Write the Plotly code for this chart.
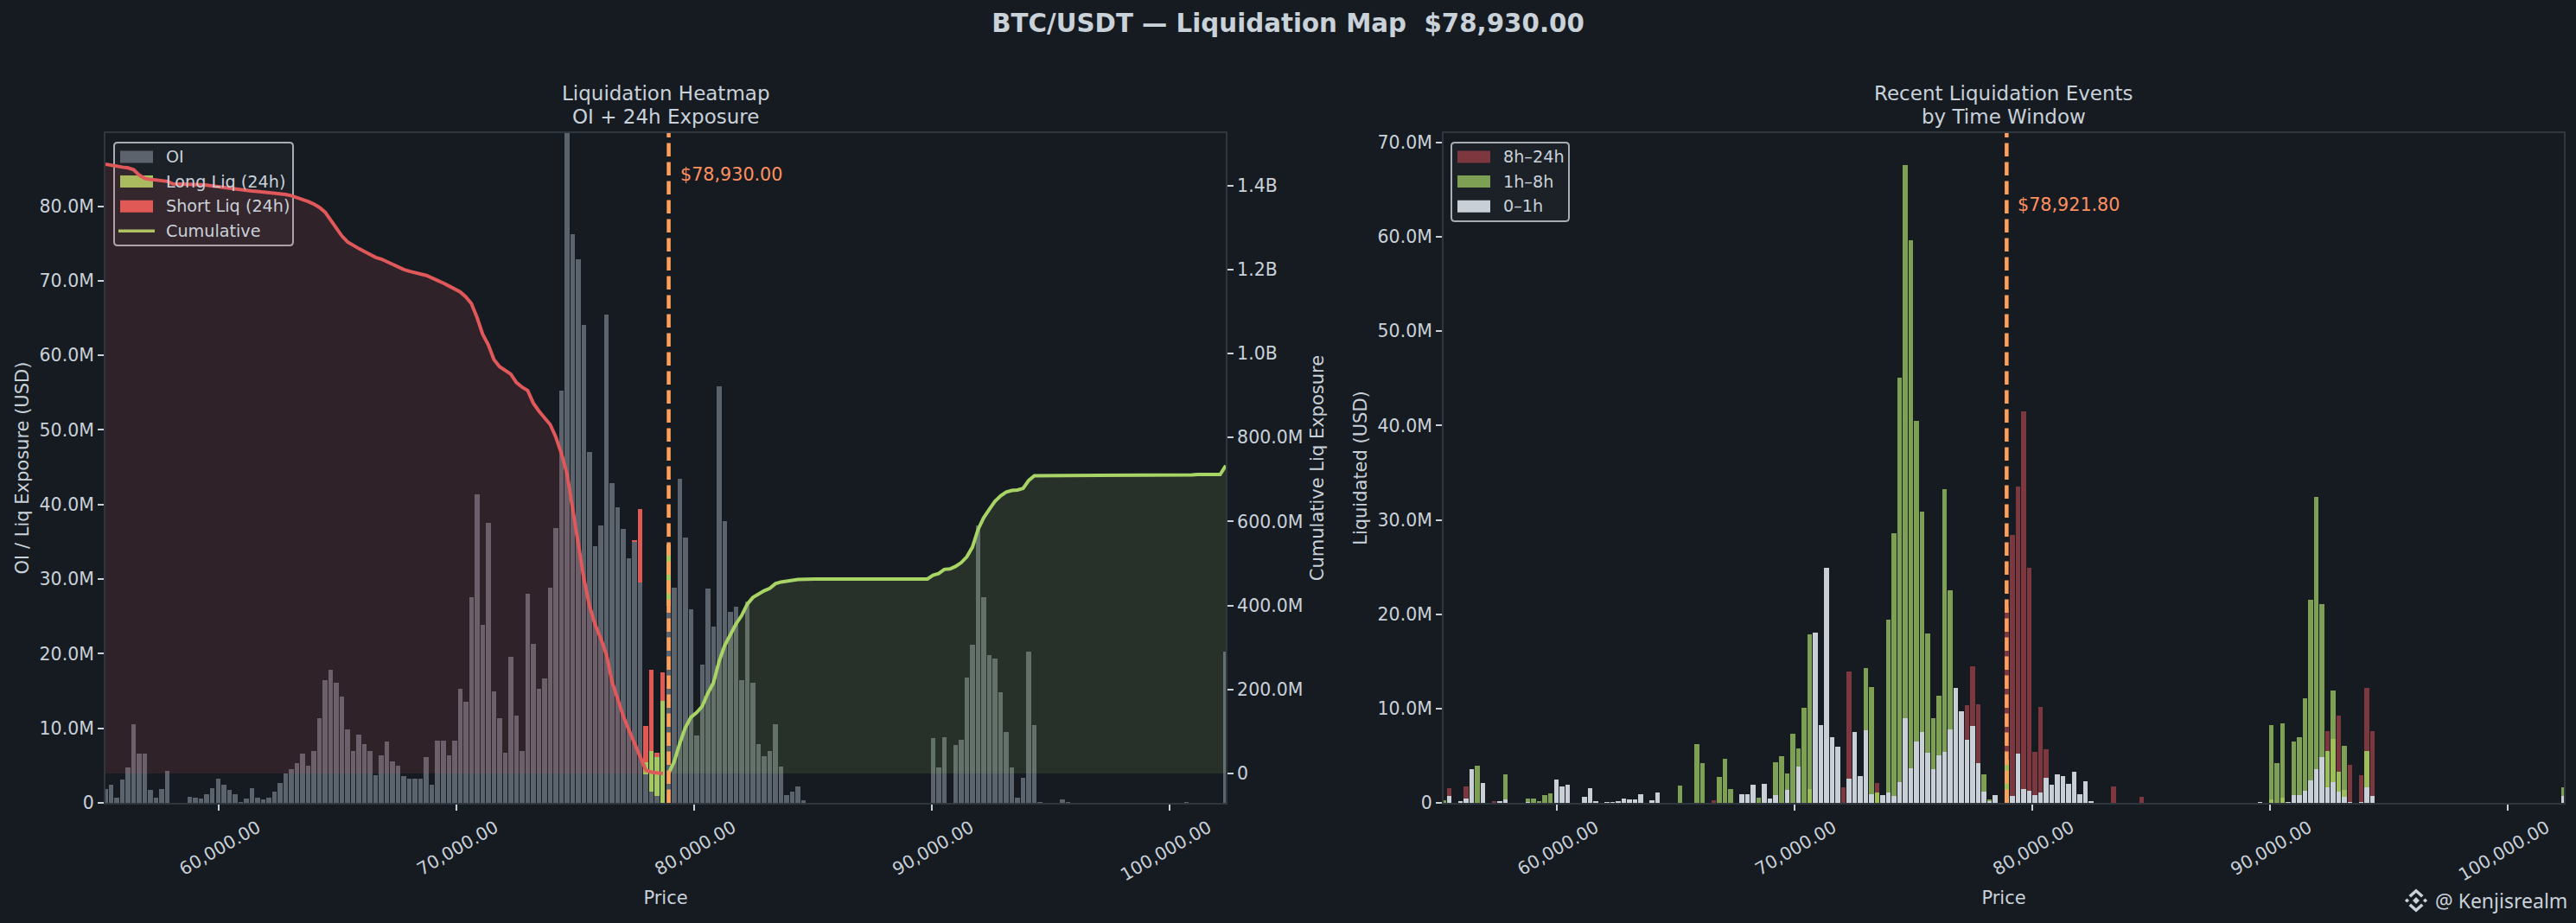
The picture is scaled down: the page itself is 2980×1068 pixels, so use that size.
import numpy as np
import plotly.graph_objects as go

PRICE_MIN, PRICE_MAX, N_BINS = 55236, 102364, 200
LAST_PRICE = 78930.00
EVENT_PRICE = 78921.80

x_ticks = [60000, 70000, 80000, 90000, 100000]
x_labels = ["60,000.00", "70,000.00", "80,000.00", "90,000.00", "100,000.00"]
y1_ticks = [0, 10, 20, 30, 40, 50, 60, 70, 80]
y1_labels = ["0", "10.0M", "20.0M", "30.0M", "40.0M", "50.0M", "60.0M", "70.0M", "80.0M"]
y2_ticks = [0, 200, 400, 600, 800, 1000, 1200, 1400]
y2_labels = ["0", "200.0M", "400.0M", "600.0M", "800.0M", "1.0B", "1.2B", "1.4B"]
y3_ticks = [0, 10, 20, 30, 40, 50, 60, 70]
y3_labels = ["0", "10.0M", "20.0M", "30.0M", "40.0M", "50.0M", "60.0M", "70.0M"]

# left panel, millions USD per price bin
oi = [
    1.8, 2.45, 0.7, 3.1, 4.7, 10.6, 6.6, 6.6, 1.7, 0.7,
    1.8, 4.3, 0, 0, 0, 0.8, 0.7, 0.6, 1.2, 2.0,
    3.25, 2.45, 1.7, 1.2, 0.15, 0.6, 2.0, 0.7, 0.5, 0.7,
    1.5, 2.7, 3.9, 4.5, 5.3, 6.6, 5.0, 6.9, 11.3, 16.4,
    17.9, 16.1, 14.2, 9.9, 6.9, 9.1, 7.9, 7.0, 3.7, 6.4,
    8.2, 5.6, 5.0, 3.6, 3.25, 3.25, 3.25, 6.1, 2.45, 8.4,
    8.4, 6.4, 8.3, 15.3, 13.5, 27.6, 41.4, 23.9, 37.6, 15.0,
    11.3, 6.7, 19.6, 11.7, 7.0, 28.0, 21.3, 15.3, 16.7, 28.8,
    36.8, 55.3, 90.0, 76.2, 72.9, 64.1, 47.0, 34.4, 37.2, 65.5,
    42.9, 39.6, 36.7, 32.8, 35.0, 29.5, 3.8, 1.5, 0.9, 0,
    26.4, 28.9, 43.5, 35.6, 26.0, 9.0, 18.5, 28.7, 23.6, 55.8,
    37.8, 25.6, 26.3, 16.5, 27.0, 16.1, 7.9, 6.2, 6.9, 10.5,
    4.9, 1.0, 1.5, 2.2, 0.35, 0, 0, 0, 0, 0,
    0, 0, 0, 0, 0, 0, 0, 0, 0, 0,
    0, 0, 0, 0, 0, 0, 0, 8.7, 4.7, 8.8,
    0, 7.8, 8.5, 16.8, 21.2, 37.2, 27.6, 19.8, 19.4, 14.8,
    9.5, 4.8, 0.7, 3.4, 20.3, 10.4, 0.1, 0, 0, 0,
    0.5, 0.12, 0, 0, 0, 0, 0, 0, 0, 0,
    0, 0, 0, 0, 0, 0, 0, 0, 0, 0,
    0, 0, 0.1, 0, 0, 0, 0, 0, 0, 20.3,
]
long_liq = [0] * 96 + [1.7, 5.4, 5.2, 13.7, 8.2] + [0] * 99
short_liq = [0] * 94 + [0.2, 9.85, 4.8, 10.9, 0.65, 3.8] + [0] * 100
cum_short = [
    1451, 1448, 1446, 1444, 1442, 1438, 1425, 1417, 1415, 1413,
    1412, 1410, 1404, 1404, 1404, 1404, 1403, 1402, 1401, 1399,
    1398, 1396, 1394, 1392, 1389, 1388, 1387, 1386, 1385, 1384,
    1383, 1381, 1379, 1376, 1372, 1367, 1362, 1356, 1348, 1337,
    1318, 1298, 1280, 1266, 1257, 1250, 1243, 1235, 1229, 1225,
    1219, 1211, 1205, 1200, 1196, 1193, 1190, 1186, 1180, 1175,
    1168, 1161, 1155, 1147, 1135, 1119, 1086, 1046, 1021, 986,
    969, 959, 951, 931, 920, 912, 882, 863, 846, 831,
    801, 762, 713, 626, 545, 463, 398, 354, 321, 283,
    218, 174, 136, 103, 71, 38, 8, 3, 1, 0,
]
cum_long = [
    0, 27, 71, 109, 134, 145, 160, 191, 216, 267,
    305, 332, 356, 376, 403, 419, 428, 435, 441, 452,
    456, 459, 460, 462, 463, 463, 463, 463, 463, 463,
    463, 463, 463, 463, 463, 463, 463, 463, 463, 463,
    463, 463, 463, 463, 463, 463, 463, 472, 476, 486,
    487, 493, 502, 516, 539, 581, 609, 629, 648, 661,
    670, 674, 675, 679, 698, 709, 709, 709, 709, 709,
    710, 710, 710, 710, 710, 710, 710, 710, 710, 710,
    710, 710, 710, 710, 711, 711, 711, 711, 711, 711,
    711, 711, 711, 711, 712, 712, 712, 712, 712, 733,
]

# right panel, millions USD per price bin
win_0_1h = [
    0, 0.7, 0, 0.2, 0.5, 3.6, 0, 2.1, 0, 0,
    0.2, 0.4, 0, 0, 0, 0.1, 0, 0, 0, 0,
    2.5, 1.75, 1.95, 0, 0, 0.6, 1.6, 0.1, 0, 0.05,
    0.05, 0.2, 0.5, 0.4, 0.4, 0.9, 0, 0.3, 1.1, 0,
    0, 0, 0, 0, 0, 0, 0, 0, 0, 0,
    0, 0, 0, 0.95, 0.95, 1.95, 0, 2.05, 0.49, 0.85,
    0, 1.4, 0, 3.88, 0, 0, 18.09, 8.28, 24.96, 7.0,
    6.0, 0, 2.6, 7.55, 2.87, 7.73, 0.95, 0, 0.85, 1.13,
    0.76, 2.23, 9.0, 3.7, 6.54, 7.55, 5.35, 3.6, 5.07, 5.44,
    7.82, 12.2, 9.75, 6.72, 8.19, 4.25, 1.22, 0.2, 0.85, 0,
    0.58, 0.76, 5.25, 1.5, 1.31, 0.85, 1.13, 2.7, 1.95, 3.05,
    2.87, 2.05, 3.33, 0.95, 2.32, 0.12, 0, 0, 0, 0,
    0, 0, 0, 0, 0, 0, 0, 0, 0, 0,
    0, 0, 0, 0, 0, 0, 0, 0, 0, 0,
    0, 0, 0, 0, 0, 0.05, 0, 0, 0, 0,
    0.05, 0.82, 0.82, 1.26, 2.36, 3.56, 4.82, 1.64, 2.19, 1.15,
    0.6, 0.05, 0, 0.05, 1.64, 0.71, 0, 0, 0, 0,
    0, 0, 0, 0, 0, 0, 0, 0, 0, 0,
    0, 0, 0, 0, 0, 0, 0, 0, 0, 0,
    0, 0, 0, 0, 0, 0, 0, 0, 0, 0.71,
]
win_overlap = [
    0, 0, 0, 0, 0, 0, 0, 0, 0, 0,
    0, 0, 0, 0, 0, 0, 0, 0, 0, 0,
    0, 0, 0, 0, 0, 0, 0, 0, 0, 0,
    0, 0, 0, 0, 0, 0, 0, 0, 0, 0,
    0, 0, 0, 0, 0, 0, 0, 0, 0, 0,
    0, 0, 0, 0, 0, 0, 0, 0, 0, 0,
    0, 0, 0, 0, 0, 1.5, 0, 0, 0, 0,
    0, 0, 0, 0, 0, 0, 0, 1.13, 0, 0,
    0, 0, 0, 0, 0, 0, 0, 0, 0, 0,
    0, 0, 0, 0, 0, 0, 0, 0, 0, 0,
    4.0, 0, 0, 0, 0, 0, 0, 0, 0, 0,
    0, 0, 0, 0, 0, 0, 0, 0, 0, 0,
    0, 0, 0, 0, 0, 0, 0, 0, 0, 0,
    0, 0, 0, 0, 0, 0, 0, 0, 0, 0,
    0, 0, 0, 0, 0, 0, 0, 0.38, 0, 0.55,
    0, 0, 0, 0, 0, 0, 0, 3.84, 4.55, 2.14,
    0.77, 0, 0, 0, 3.84, 0, 0, 0, 0, 0,
    0, 0, 0, 0, 0, 0, 0, 0, 0, 0,
    0, 0, 0, 0, 0, 0, 0, 0, 0, 0,
    0, 0, 0, 0, 0, 0, 0, 0, 0, 0,
]
win_1_8h = [
    0.24, 0, 0, 0, 0, 0, 3.9, 0, 0, 0,
    0, 2.65, 0, 0, 0, 0.4, 0.5, 0.2, 0.8, 1.0,
    0, 0, 0, 0, 0, 0, 0, 0, 0, 0,
    0, 0, 0, 0, 0, 0, 0, 0, 0, 0,
    0, 0, 1.85, 0, 0, 6.25, 4.2, 0, 0, 2.75,
    4.7, 1.47, 0, 0, 0, 0, 0.58, 0, 0, 3.49,
    4.98, 1.74, 7.36, 1.92, 10.1, 16.4, 0, 0, 0, 0,
    0, 0, 0, 0, 0, 6.6, 11.36, 0, 0, 18.33,
    27.8, 42.8, 58.6, 55.9, 33.96, 23.3, 12.65, 5.4, 6.33, 27.86,
    14.76, 0, 0, 0, 0, 0, 1.84, 0.2, 0, 0,
    0, 0, 0, 0, 0, 0, 0, 0, 0, 0,
    0, 0, 0, 0, 0, 0, 0, 0, 0, 0,
    0, 0, 0, 0, 0, 0, 0, 0, 0, 0,
    0, 0, 0, 0, 0, 0, 0, 0, 0, 0,
    0, 0, 0, 0, 0, 0, 0, 7.84, 4.2, 7.84,
    0, 5.65, 6.14, 9.81, 19.19, 28.84, 16.23, 0, 5.15, 0,
    4.66, 0, 0, 0, 0, 0, 0, 0, 0, 0,
    0, 0, 0, 0, 0, 0, 0, 0, 0, 0,
    0, 0, 0, 0, 0, 0, 0, 0, 0, 0,
    0, 0, 0, 0, 0, 0, 0, 0, 0, 0.93,
]
win_8_24h = [
    0, 0.9, 0, 0, 1.2, 0, 0, 0, 0, 0.1,
    0, 0, 0, 0, 0, 0, 0, 0, 0, 0,
    0, 0, 0, 0, 0, 0, 0, 0, 0, 0,
    0, 0, 0, 0, 0, 0, 0, 0, 0, 0,
    0, 0, 0, 0, 0, 0, 0, 0, 0.3, 0,
    0, 0, 0, 0, 0, 0, 0, 0, 0, 0,
    0, 0, 0, 0, 0, 0, 0, 0, 0, 0,
    0, 1.68, 11.36, 0, 0, 0, 0, 1.0, 0, 0,
    0, 0, 0, 0, 0, 0, 0, 0, 0, 0,
    0, 0, 0, 3.67, 6.33, 6.23, 0, 0, 0, 0,
    16.26, 27.6, 28.3, 40.0, 23.65, 4.59, 9.0, 3.0, 0, 0,
    0, 0, 0, 0, 0, 0, 0, 0, 0, 1.7,
    0, 0, 0, 0, 0.68, 0, 0, 0, 0, 0,
    0, 0, 0, 0, 0, 0, 0, 0, 0, 0,
    0, 0, 0, 0, 0, 0, 0, 0, 0, 0,
    0, 0, 0, 0, 0, 0, 0, 2.08, 0, 5.98,
    0, 3.95, 0, 2.85, 6.69, 6.85, 0, 0, 0, 0,
    0, 0, 0, 0, 0, 0, 0, 0, 0, 0,
    0, 0, 0, 0, 0, 0, 0, 0, 0, 0,
    0, 0, 0, 0, 0, 0, 0, 0, 0, 0,
]

W, H = 2980, 1068
BG = "#161b22"
SPINE = "#30363d"
TEXT = "#c9d1d9"
ORANGE = "#ffa05a"
ORANGE_TEXT = "#ff9060"
FONT = "DejaVu Sans"
OI_COL, LONG_COL, SHORT_COL, CUM_COL = "rgba(139,148,158,0.6)", "#a3c95f", "#e05a55", "#a8d466"
W0_COL, W1_COL, W2_COL = "#c8cfd7", "#7da055", "#7d373e"
prices = np.linspace(PRICE_MIN, PRICE_MAX, N_BINS)
BAR_W = 200
M = 1e6


def mil(values):
    return np.asarray(values, dtype=float) * M


fig = go.Figure()
for name, vals, color in [
    ("OI", oi, OI_COL),
    ("Long Liq (24h)", long_liq, LONG_COL),
    ("Short Liq (24h)", short_liq, SHORT_COL),
]:
    fig.add_trace(go.Bar(x=prices, y=mil(vals), name=name, width=BAR_W, marker=dict(color=color, line_width=0),
                         xaxis="x", yaxis="y"))
fig.add_trace(go.Scatter(x=prices[:100], y=mil(cum_short), mode="lines", name="Cumulative short",
                         line=dict(color="#e0585a", width=4), fill="tozeroy", fillcolor="rgba(224,88,90,0.13)",
                         xaxis="x", yaxis="y2"))
fig.add_trace(go.Scatter(x=prices[100:], y=mil(cum_long), mode="lines", name="Cumulative",
                         line=dict(color=CUM_COL, width=4), fill="tozeroy", fillcolor="rgba(168,212,102,0.12)",
                         xaxis="x", yaxis="y2"))
for name, vals, color in [
    ("0–1h", win_0_1h, W0_COL),
    ("1h–8h overlap", win_overlap, "#9ebe5a"),
    ("1h–8h", win_1_8h, W1_COL),
    ("8h–24h", win_8_24h, W2_COL),
]:
    fig.add_trace(go.Bar(x=prices, y=mil(vals), name=name, width=BAR_W,
                         marker=dict(color=color, line_width=0), xaxis="x2", yaxis="y3"))


def px_x(p):
    return p / W


def px_y(p):
    return 1 - p / H


axis_font = dict(family=FONT, size=20.5, color=TEXT)
label_font = dict(family=FONT, size=21, color=TEXT)
head_font = dict(family=FONT, size=23, color=TEXT)
legend_font = dict(family=FONT, size=19.2, color=TEXT)
common = dict(showgrid=False, zeroline=False, showline=True, linecolor=SPINE, linewidth=2, automargin=False,
              ticks="outside", ticklen=7, tickwidth=2, tickcolor=TEXT, tickfont=axis_font)
xcommon = dict(common, range=[PRICE_MIN, PRICE_MAX], tickmode="array", tickvals=x_ticks, ticktext=x_labels,
               tickangle=-30, ticklabelshift=45, mirror=True,
               title=dict(text="Price", font=label_font, standoff=8))

annotations = []
for text, cx, cy in [("Liquidation Heatmap", 770, 108), ("OI + 24h Exposure", 770, 135),
                     ("Recent Liquidation Events", 2318, 108), ("by Time Window", 2318, 135)]:
    annotations.append(dict(text=text, xref="paper", yref="paper", x=px_x(cx), y=px_y(cy), showarrow=False,
                            xanchor="center", yanchor="middle", font=head_font))
annotations += [
    dict(text="$78,930.00", xref="x", yref="paper", x=LAST_PRICE, xshift=11, y=px_y(202), showarrow=False,
         xanchor="left", yanchor="middle", font=dict(family=FONT, size=20.7, color=ORANGE_TEXT)),
    dict(text="$78,921.80", xref="x2", yref="paper", x=EVENT_PRICE, xshift=11, y=px_y(237), showarrow=False,
         xanchor="left", yanchor="middle", font=dict(family=FONT, size=20.7, color=ORANGE_TEXT)),
    dict(text="@ Kenjisrealm", xref="paper", yref="paper", x=px_x(2972), y=px_y(1042), showarrow=False,
         xanchor="right", yanchor="middle", font=dict(family="Noto Sans", size=23, color=TEXT)),
]
shapes = [
    dict(type="line", xref="x", yref="y domain", x0=LAST_PRICE, x1=LAST_PRICE, y0=0, y1=1, layer="above",
         line=dict(color=ORANGE, width=4.5, dash="15.5px,6.5px")),
    dict(type="line", xref="x2", yref="y3 domain", x0=EVENT_PRICE, x1=EVENT_PRICE, y0=0, y1=1, layer="above",
         line=dict(color=ORANGE, width=4.5, dash="15.5px,6.5px")),
]


def round_rect(x0, y0, x1, y1, r=4):
    return (f"M{px_x(x0 + r)},{px_y(y0)} L{px_x(x1 - r)},{px_y(y0)} Q{px_x(x1)},{px_y(y0)} {px_x(x1)},{px_y(y0 + r)} "
            f"L{px_x(x1)},{px_y(y1 - r)} Q{px_x(x1)},{px_y(y1)} {px_x(x1 - r)},{px_y(y1)} "
            f"L{px_x(x0 + r)},{px_y(y1)} Q{px_x(x0)},{px_y(y1)} {px_x(x0)},{px_y(y1 - r)} "
            f"L{px_x(x0)},{px_y(y0 + r)} Q{px_x(x0)},{px_y(y0)} {px_x(x0 + r)},{px_y(y0)} Z")


def add_legend(x0, y0, x1, y1, entries):
    shapes.append(dict(type="path", path=round_rect(x0, y0, x1, y1), xref="paper", yref="paper", layer="below",
                       fillcolor="#1c2128", line=dict(color="#a8adb3", width=2)))
    for k, (name, color, is_line) in enumerate(entries):
        cy = y0 + 16.5 + 28.6 * k
        hx0, hx1 = x0 + 7, x0 + 45
        if is_line:
            shapes.append(dict(type="line", x0=px_x(hx0 - 2), x1=px_x(hx1 + 2), y0=px_y(cy), y1=px_y(cy), xref="paper",
                               yref="paper", layer="below", line=dict(color=color, width=3.5)))
        else:
            shapes.append(dict(type="rect", x0=px_x(hx0), x1=px_x(hx1), y0=px_y(cy - 7), y1=px_y(cy + 7), xref="paper",
                               yref="paper", layer="below", fillcolor=color, line_width=0))
        annotations.append(dict(text=name, xref="paper", yref="paper", x=px_x(x0 + 58), y=px_y(cy), showarrow=False,
                                xanchor="left", yanchor="middle", font=legend_font))


add_legend(132, 165, 339, 284, [("OI", "#5c636c", False), ("Long Liq (24h)", LONG_COL, False),
                                ("Short Liq (24h)", SHORT_COL, False), ("Cumulative", CUM_COL, True)])
add_legend(1679, 165, 1815, 256, [("8h–24h", W2_COL, False), ("1h–8h", W1_COL, False), ("0–1h", W0_COL, False)])


def diamond(cx, cy, r):
    return (f"M{px_x(cx - r)},{px_y(cy)} L{px_x(cx)},{px_y(cy - r)} "
            f"L{px_x(cx + r)},{px_y(cy)} L{px_x(cx)},{px_y(cy + r)} Z")


LOGO_X, LOGO_Y = 2795, 1042
logo = [diamond(LOGO_X, LOGO_Y, 4), diamond(LOGO_X - 10.5, LOGO_Y, 2.6), diamond(LOGO_X + 10.5, LOGO_Y, 2.6)]
for sign in (-1, 1):
    pts = [(-8.5, 6), (0, 13.5), (8.5, 6), (6, 3.5), (0, 9), (-6, 3.5)]
    logo.append("M" + " L".join(f"{px_x(LOGO_X + a)},{px_y(LOGO_Y + sign * b)}" for a, b in pts) + " Z")
for path in logo:
    shapes.append(dict(type="path", path=path, xref="paper", yref="paper", fillcolor=TEXT, line_width=0, layer="above"))

fig.update_layout(
    width=W, height=H, margin=dict(l=0, r=0, t=0, b=0), paper_bgcolor=BG, plot_bgcolor="rgba(0,0,0,0)",
    barmode="stack", bargap=0, font=dict(family=FONT, color=TEXT), showlegend=False,
    title=dict(text="<b>BTC/USDT — Liquidation Map  $78,930.00</b>", x=0.5, xanchor="center",
               y=px_y(27), yanchor="middle", font=dict(family=FONT, size=29.3, color=TEXT)),
    xaxis=dict(xcommon, domain=[px_x(122), px_x(1418)], anchor="y"),
    xaxis2=dict(xcommon, domain=[px_x(1670), px_x(2966)], anchor="y3"),
    yaxis=dict(common, domain=[px_y(929), px_y(154)], anchor="x", range=[0, 89.8 * M], mirror=False,
               tickmode="array", tickvals=[v * M for v in y1_ticks], ticktext=y1_labels,
               title=dict(text="OI / Liq Exposure (USD)", font=label_font, standoff=6)),
    yaxis2=dict(common, anchor="x", overlaying="y", side="right", range=[-70 * M, 1525 * M],
                tickmode="array", tickvals=[v * M for v in y2_ticks], ticktext=y2_labels,
                title=dict(text="Cumulative Liq Exposure", font=label_font, standoff=10)),
    yaxis3=dict(common, domain=[px_y(929), px_y(154)], anchor="x2", range=[0, 71 * M], mirror=True,
                tickmode="array", tickvals=[v * M for v in y3_ticks], ticktext=y3_labels,
                title=dict(text="Liquidated (USD)", font=label_font, standoff=6)),
    shapes=shapes,
    annotations=annotations,
)

fig.write_html("out.html", config={"displayModeBar": False},
               post_script="document.body.style.margin='0';document.body.style.background='#161b22';")
